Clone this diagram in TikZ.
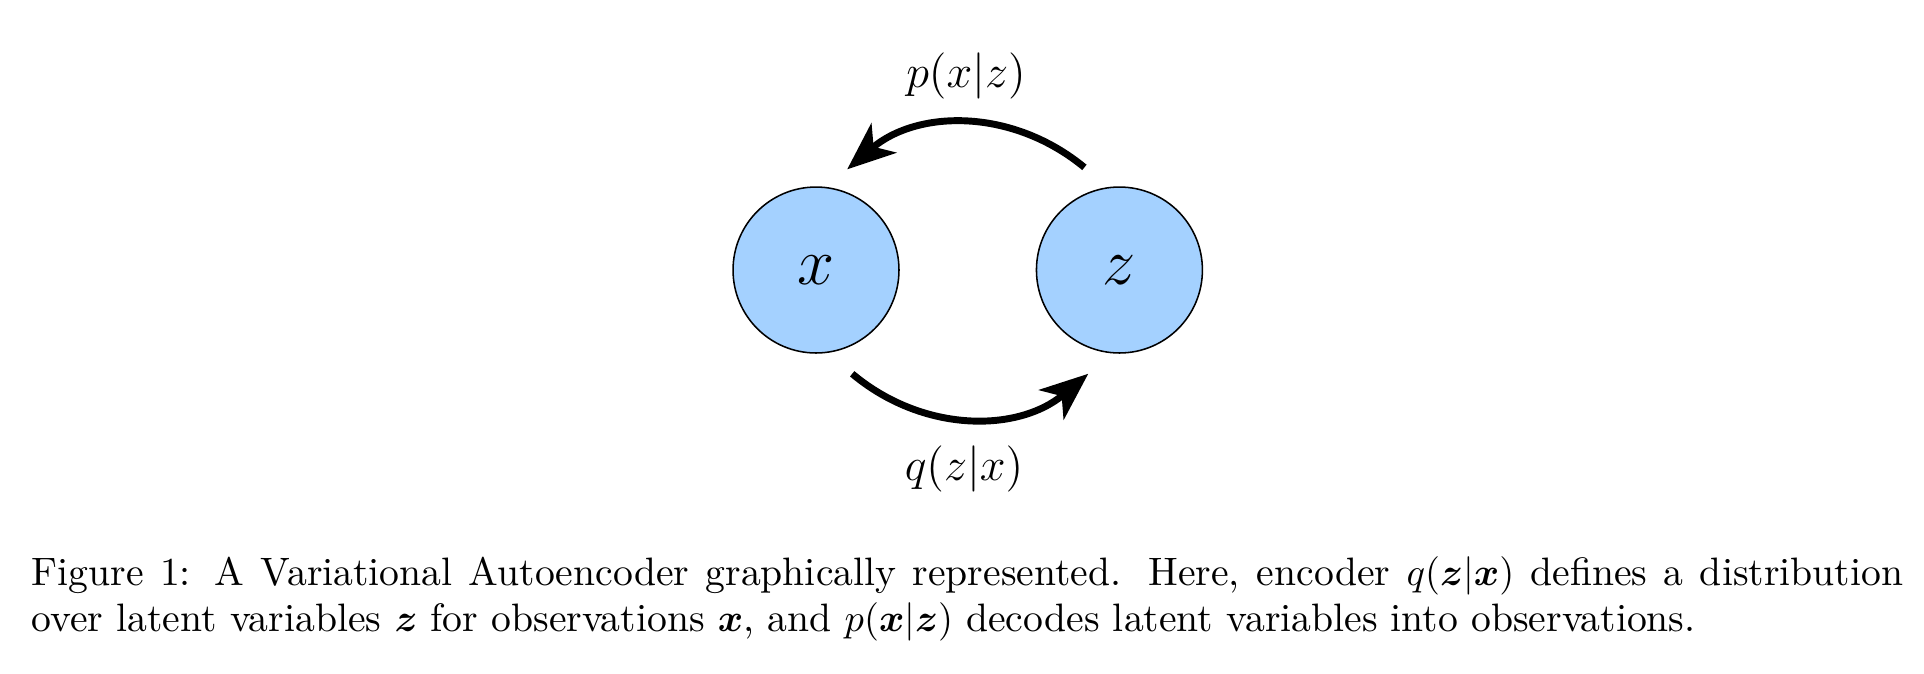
\documentclass[tikz,border=0pt]{standalone}
\usepackage{amsmath}
\usepackage{xcolor}
\usepackage{tikz}
\usetikzlibrary{positioning, arrows.meta}

\definecolor{latentblue}{RGB}{164,209,255}

\begin{document}
\begin{tikzpicture}[
            x=0.2597pt, y=-0.2597pt,
            latent/.style={circle, draw, fill=latentblue, line width=0.4pt, minimum size=43.1pt,
                           inner sep=0pt, font=\LARGE},
            flow/.style={-{Stealth[length=12.5pt, width=10pt, inset=3.5pt]}, line width=1.8pt},
            node distance=35.3pt % gap between the two circles
        ]

            \useasboundingbox (0,0) rectangle (1924,673);

            % Observed and latent variable
            \node[latent] (x) at (816,270) {$x$};
            \node[latent, right=of x] (z) {$z$};

            % Decoder (top) and encoder (bottom)
            \draw[flow] ([xshift=-9.1pt, yshift=4.9pt]z.north) to[bend right=40] ([xshift=8.1pt, yshift=4.4pt]x.north);
            \draw[flow] ([xshift=9.4pt, yshift=-5.2pt]x.south) to[bend right=40] ([xshift=-8.1pt, yshift=-5.2pt]z.south);

            \node[font=\large] (dec) at (966,76) {$p(x|z)$};
            \node[font=\large] (enc) at (964,469) {$q(z|x)$};

            % Caption
            \node[anchor=north west, inner sep=0pt, text width=486pt, align=justify,
                  font=\fontsize{10.3}{11.9}\selectfont] (cap) at (31,556)
                {Figure 1: A Variational Autoencoder graphically represented. Here, encoder $q(\boldsymbol{z}|\boldsymbol{x})$ defines a distribution over latent variables $\boldsymbol{z}$ for observations $\boldsymbol{x}$, and $p(\boldsymbol{x}|\boldsymbol{z})$ decodes latent variables into observations.};

        \end{tikzpicture}
\end{document}
